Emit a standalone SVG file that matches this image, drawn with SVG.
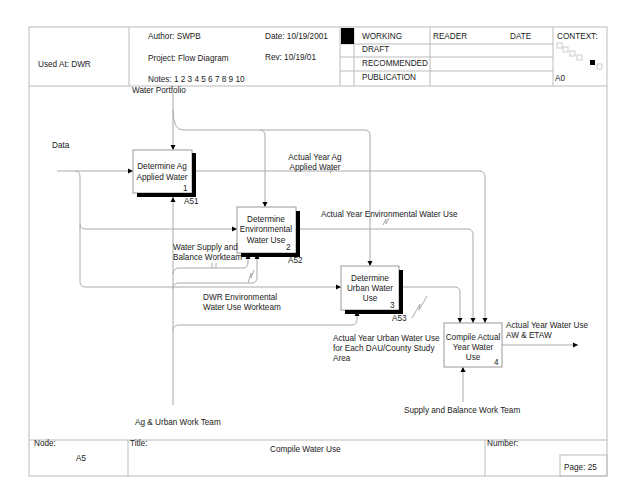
<svg xmlns="http://www.w3.org/2000/svg" width="638" height="493" viewBox="0 0 638 493">
<style>
text{font-family:"Liberation Sans",Arial,sans-serif;font-size:8.2px;fill:#222}
.f{fill:none;stroke:#bbb;stroke-width:1}
.c{fill:none;stroke:#aaa;stroke-width:1}
.b{fill:#fff;stroke:#999;stroke-width:1}
.s{fill:#000}
</style>
<defs><marker id="a" markerWidth="6" markerHeight="6" refX="5" refY="3" orient="auto" markerUnits="userSpaceOnUse"><path d="M0,0.5L5,3L0,5.5z" fill="#000"/></marker></defs>
<rect width="638" height="493" fill="#fff"/>
<g id="frame">
<rect class="f" x="29" y="27" width="578" height="449"/>
<line class="f" x1="29" y1="86" x2="607" y2="86"/>
<line class="f" x1="129" y1="27" x2="129" y2="86"/>
<line class="f" x1="354" y1="27" x2="354" y2="86"/>
<line class="f" x1="430" y1="27" x2="430" y2="86"/>
<line class="f" x1="553" y1="27" x2="553" y2="86"/>
<line class="f" x1="340" y1="44" x2="553" y2="44"/>
<line class="f" x1="340" y1="57" x2="553" y2="57"/>
<line class="f" x1="340" y1="71" x2="553" y2="71"/>
<line class="f" x1="340" y1="27" x2="340" y2="86"/>
<rect x="341" y="28" width="13" height="16" fill="#000"/>
<text x="148" y="39">Author: SWPB</text><text x="265" y="39">Date: 10/19/2001</text>
<text x="148" y="61">Project: Flow Diagram</text><text x="265" y="60">Rev:  10/19/01</text>
<text x="148" y="82">Notes:  1 2 3 4 5 6 7 8 9 10</text>
<text x="38" y="67">Used At: DWR</text>
<text x="362" y="39">WORKING</text><text x="362" y="52">DRAFT</text><text x="362" y="66">RECOMMENDED</text><text x="362" y="80">PUBLICATION</text>
<text x="433" y="39">READER</text><text x="510" y="39">DATE</text>
<text x="557" y="39">CONTEXT:</text><text x="555" y="81">A0</text>
<g fill="none" stroke="#ccc"><rect x="557" y="43" width="5" height="5"/><rect x="563" y="47" width="5" height="5"/><rect x="570" y="51" width="5" height="5"/><rect x="577" y="55" width="5" height="5"/><rect x="597" y="64" width="5" height="5"/></g>
<rect x="590" y="60" width="5" height="5" fill="#000"/>
<line class="f" x1="29" y1="440" x2="607" y2="440"/>
<line class="f" x1="128" y1="440" x2="128" y2="476"/>
<line class="f" x1="485" y1="440" x2="485" y2="476"/>
<rect class="f" x="560" y="455" width="47" height="21"/>
<text x="34" y="446">Node:</text><text x="76" y="461">A5</text>
<text x="130" y="446">Title:</text><text x="270" y="452">Compile Water Use</text>
<text x="487" y="446">Number:</text><text x="564" y="470">Page:  25</text>
</g>
<g id="connectors" class="c">
<path d="M173,92V150" marker-end="url(#a)"/>
<path d="M173,110Q173,130 183,130H260Q265,130 265,136V207" marker-end="url(#a)"/>
<path d="M260,130H365Q370,130 370,136V266" marker-end="url(#a)"/>
<path d="M57,171H133" marker-end="url(#a)"/>
<path d="M75,171Q80,171 80,177V224Q80,229 86,229H237" marker-end="url(#a)"/>
<path d="M80,224V282Q80,287 86,287H341" marker-end="url(#a)"/>
<path d="M192,171H479Q485,171 485,177V323" marker-end="url(#a)"/>
<path d="M296,229H468Q473,229 473,235V323" marker-end="url(#a)"/>
<path d="M399,287H455Q460,287 460,293V323" marker-end="url(#a)"/>
<path d="M502,345H578" marker-end="url(#a)"/>
<path d="M463,402V367" marker-end="url(#a)"/>
<path d="M173,405V197" marker-end="url(#a)"/>
<path d="M173,274Q173,268 179,268H243Q248,268 248,262V254" marker-end="url(#a)"/>
<path d="M173,289Q173,283 179,283H252Q257,283 257,277V254" marker-end="url(#a)"/>
<path d="M173,331Q173,325 179,325H352Q357,325 357,319V311" marker-end="url(#a)"/>
<path d="M330,173l4,-6M383,225l3,-6 0,5 3,-6M212,263l0,5M216,263l0,5M248,283l3,-10 0,5 3,-8M412,318l8,-14 -1,6 8,-14"/>
</g>
<g id="box1"><rect class="b" x="133" y="150" width="59" height="43"/><rect class="s" x="192" y="153" width="4" height="43"/><rect class="s" x="137" y="193" width="59" height="4"/>
<text x="162" y="169" text-anchor="middle">Determine Ag</text><text x="162" y="180" text-anchor="middle">Applied Water</text><text x="183" y="191">1</text><text x="184" y="204">A51</text></g>
<g id="box2"><rect class="b" x="237" y="207" width="59" height="46"/><rect class="s" x="296" y="211" width="4" height="45"/><rect class="s" x="241" y="253" width="59" height="4"/>
<text x="266" y="222" text-anchor="middle">Determine</text><text x="266" y="232" text-anchor="middle">Environmental</text><text x="266" y="243" text-anchor="middle">Water Use</text><text x="286" y="250">2</text><text x="288" y="263">A52</text></g>
<g id="box3"><rect class="b" x="341" y="266" width="58" height="44"/><rect class="s" x="399" y="270" width="4" height="44"/><rect class="s" x="345" y="310" width="58" height="4"/>
<text x="370" y="281" text-anchor="middle">Determine</text><text x="370" y="291" text-anchor="middle">Urban Water</text><text x="370" y="301" text-anchor="middle">Use</text><text x="390" y="308">3</text><text x="392" y="321">A53</text></g>
<g id="box4"><rect class="b" x="444" y="323" width="58" height="44"/>
<text x="473" y="340" text-anchor="middle" font-size="7.9">Compile Actual</text><text x="473" y="350" text-anchor="middle">Year Water</text><text x="473" y="360" text-anchor="middle">Use</text><text x="494" y="365">4</text></g>
<g id="labels">
<text x="132" y="93">Water Portfolio</text>
<text x="52" y="148">Data</text>
<text x="315" y="160" text-anchor="middle">Actual Year Ag</text><text x="315" y="170" text-anchor="middle">Applied Water</text>
<text x="321" y="217">Actual Year Environmental Water Use</text>
<text x="173" y="250">Water Supply and</text><text x="173" y="260">Balance Workteam</text>
<text x="203" y="300">DWR Environmental</text><text x="203" y="310">Water Use Workteam</text>
<text x="333" y="341">Actual Year Urban Water Use</text><text x="333" y="351">for Each DAU/County Study</text><text x="333" y="361">Area</text>
<text x="506" y="328">Actual Year Water Use</text><text x="506" y="338">AW &amp; ETAW</text>
<text x="404" y="413">Supply and Balance Work Team</text>
<text x="135" y="425">Ag &amp; Urban Work Team</text>
</g>
</svg>
